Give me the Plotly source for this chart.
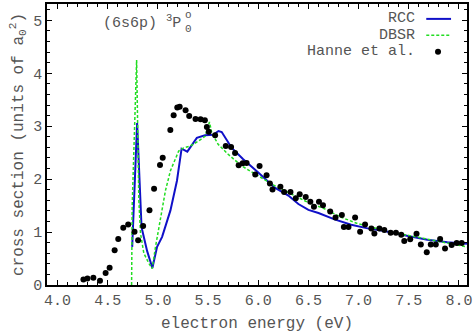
import plotly.graph_objects as go

# Hanne et al. experimental points
hanne_x = [4.258, 4.298, 4.357, 4.423, 4.479, 4.519, 4.569, 4.605, 4.655, 4.704,
           4.767, 4.803, 4.853, 4.916, 4.962, 5.021, 5.048, 5.124, 5.157, 5.193,
           5.217, 5.276, 5.312, 5.375, 5.425, 5.468, 5.488, 5.507, 5.570, 5.676,
           5.729, 5.769, 5.805, 5.845, 5.884, 5.970, 6.013, 6.083, 6.116, 6.142,
           6.221, 6.258, 6.321, 6.374, 6.413, 6.473, 6.519, 6.555, 6.605, 6.645,
           6.717, 6.770, 6.833, 6.853, 6.899, 6.965, 7.015, 7.064, 7.127, 7.157,
           7.207, 7.256, 7.319, 7.372, 7.425, 7.455, 7.514, 7.577, 7.620, 7.679,
           7.719, 7.769, 7.812, 7.861, 7.927, 7.977, 8.027]
hanne_y = [0.106, 0.125, 0.138, 0.081, 0.225, 0.325, 0.656, 0.869, 1.081, 1.144,
           1.006, 0.844, 1.113, 1.413, 1.819, 2.269, 2.406, 2.931, 3.206, 3.356,
           3.369, 3.300, 3.194, 3.138, 3.131, 3.113, 2.988, 2.894, 2.831, 2.625,
           2.606, 2.494, 2.263, 2.300, 2.306, 2.088, 2.250, 2.075, 1.919, 1.806,
           1.856, 1.756, 1.756, 1.638, 1.713, 1.663, 1.575, 1.481, 1.575, 1.506,
           1.388, 1.275, 1.325, 1.094, 1.094, 1.275, 1.006, 1.144, 1.069, 0.975,
           1.069, 1.038, 0.988, 0.988, 0.950, 0.831, 0.863, 0.969, 0.763, 0.619,
           0.763, 0.763, 0.869, 0.688, 0.756, 0.794, 0.794]

# RCC curve
rcc_x = [4.744, 4.793, 4.837, 4.893, 4.945, 4.992, 5.042, 5.125, 5.19, 5.236,
         5.293, 5.388, 5.47, 5.55, 5.604, 5.636, 5.736, 5.85, 6.0, 6.165,
         6.30, 6.40, 6.50, 6.60, 6.76, 6.926, 7.09, 7.256, 7.455, 7.686,
         7.884, 8.08]
rcc_y = [0.72, 3.06, 1.09, 0.64, 0.32, 0.72, 0.91, 1.41, 1.97, 2.575,
         2.52, 2.78, 2.83, 2.84, 2.91, 2.89, 2.59, 2.375, 2.125, 1.84,
         1.69, 1.53, 1.42, 1.36, 1.24, 1.14, 1.07, 1.02, 0.94, 0.856,
         0.81, 0.78]

# DBSR curve
dbsr_x = [4.738, 4.744, 4.788, 4.81, 4.827, 4.86, 4.91, 4.943, 4.976, 5.026,
          5.075, 5.125, 5.19, 5.207, 5.256, 5.32, 5.405, 5.47, 5.514, 5.537,
          5.60, 5.70, 5.835, 6.0, 6.165, 6.33, 6.496, 6.66, 6.826, 6.99,
          7.157, 7.322, 7.488, 7.653, 7.818, 7.983, 8.08]
dbsr_y = [0.0, 1.5, 4.25, 1.6, 0.97, 0.6, 0.41, 0.31, 0.72, 1.28,
          1.78, 2.16, 2.47, 2.53, 2.59, 2.625, 2.72, 2.81, 3.08, 2.875,
          2.66, 2.47, 2.25, 2.06, 1.875, 1.72, 1.56, 1.44, 1.28, 1.16,
          1.075, 1.0, 0.94, 0.875, 0.81, 0.75, 0.72]

x_ticks = [4.0, 4.5, 5.0, 5.5, 6.0, 6.5, 7.0, 7.5, 8.0]
x_tick_labels = ["4.0", "4.5", "5.0", "5.5", "6.0", "6.5", "7.0", "7.5", "8.0"]
y_ticks = [0, 1, 2, 3, 4, 5]
series_names = ["RCC", "DBSR", "Hanne et al."]

FONT = "Liberation Mono, Courier New, monospace"
TXT = "#555555"
BLUE = "#1010c8"
GREEN = "#22dd22"

fig = go.Figure()
fig.add_trace(go.Scatter(x=rcc_x, y=rcc_y, mode="lines", name=series_names[0],
                         line=dict(color=BLUE, width=2)))
fig.add_trace(go.Scatter(x=dbsr_x, y=dbsr_y, mode="lines", name=series_names[1],
                         line=dict(color=GREEN, width=1.5, dash="3px,2px")))
fig.add_trace(go.Scatter(x=hanne_x, y=hanne_y, mode="markers", name=series_names[2],
                         marker=dict(color="black", size=6)))

axis_common = dict(showline=True, linecolor="black", linewidth=1.5, mirror="allticks",
                   ticks="inside", ticklen=5, tickcolor="black", showgrid=False,
                   zeroline=False, ticklabeloverflow="allow",
                   tickfont=dict(family=FONT, size=15, color=TXT))

fig.update_xaxes(range=[3.895, 8.08], tickvals=x_ticks, ticktext=x_tick_labels,
                 minor=dict(dtick=0.1, ticklen=3, ticks="inside", tickcolor="black"),
                 title=dict(text="electron energy (eV)", font=dict(family=FONT, size=16, color=TXT),
                            standoff=8),
                 **axis_common)
fig.update_yaxes(range=[0, 5.31], tickvals=y_ticks,
                 minor=dict(dtick=0.2, ticklen=3, ticks="inside", tickcolor="black"),
                 title=dict(text="cross section (units of a<sub>0</sub><sup>2</sup>)",
                            font=dict(family=FONT, size=16, color=TXT), standoff=6),
                 **axis_common)

# state label
fig.add_annotation(x=0.128, y=0.935, xref="paper", yref="paper", xanchor="left", yanchor="middle",
                   text="(6s6p) <sup>3</sup>P", showarrow=False,
                   font=dict(family=FONT, size=15, color=TXT))
fig.add_annotation(x=0.323, y=0.962, xref="paper", yref="paper", xanchor="left", yanchor="middle",
                   text="o", showarrow=False, font=dict(family=FONT, size=11, color=TXT))
fig.add_annotation(x=0.323, y=0.912, xref="paper", yref="paper", xanchor="left", yanchor="middle",
                   text="0", showarrow=False, font=dict(family=FONT, size=11, color=TXT))

# gnuplot-style key: text right-aligned, sample to the right
key_rows = [0.947, 0.889, 0.830]
for name, ky in zip(series_names, key_rows):
    fig.add_annotation(x=0.879, y=ky, xref="paper", yref="paper", xanchor="right", yanchor="middle",
                       text=name, showarrow=False, borderpad=0,
                       font=dict(family=FONT, size=15, color=TXT))
fig.add_shape(type="line", xref="paper", yref="paper", x0=0.903, x1=0.962,
              y0=key_rows[0], y1=key_rows[0], line=dict(color=BLUE, width=2))
fig.add_shape(type="line", xref="paper", yref="paper", x0=0.903, x1=0.962,
              y0=key_rows[1], y1=key_rows[1], line=dict(color=GREEN, width=1.5, dash="3px,2px"))
fig.add_trace(go.Scatter(x=[0.931], y=[key_rows[2]], xaxis="x2", yaxis="y2", mode="markers",
                         marker=dict(color="black", size=6), showlegend=False, hoverinfo="skip"))

fig.update_layout(
    width=474, height=333,
    margin=dict(l=47, r=5, t=2, b=48),
    plot_bgcolor="white", paper_bgcolor="white",
    showlegend=False,
    xaxis2=dict(overlaying="x", range=[0, 1], visible=False, domain=[0, 1]),
    yaxis2=dict(overlaying="y", range=[0, 1], visible=False, domain=[0, 1]),
)

fig.write_html("out.html")
